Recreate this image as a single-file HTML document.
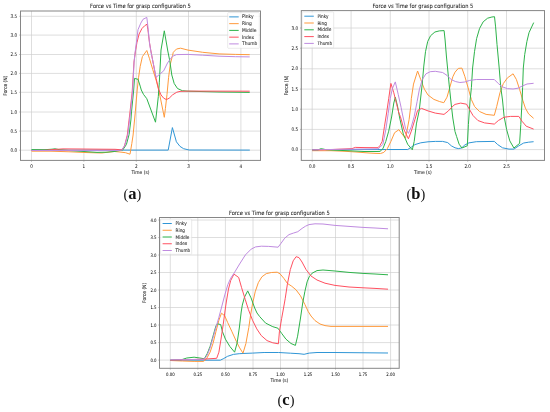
<!DOCTYPE html>
<html lang="en"><head><meta charset="utf-8"><title>Force vs Time for grasp configuration 5</title>
<style>
html,body{margin:0;padding:0;background:#fff;}
body{width:550px;height:412px;overflow:hidden;}
svg{display:block;}
text{font-family:"DejaVu Sans","Liberation Sans",sans-serif;fill:#222;stroke:#222;stroke-width:0.5px;}
.grid{stroke:#cfcfcf;stroke-width:0.68;fill:none;}
.tick{stroke:#868686;stroke-width:0.6;fill:none;}
.box{stroke:#868686;stroke-width:1.0;fill:none;}
.ln{fill:none;stroke-width:1.0;stroke-linejoin:round;stroke-linecap:butt;}
.lg{fill:#fff;fill-opacity:0.8;stroke:#d6d6d6;stroke-width:0.5;}
.cap{stroke:none;font-family:"Liberation Serif","DejaVu Serif",serif;font-size:16.5px;fill:#111;}
.cap .b{font-weight:bold;}
.cap .p{font-size:14.4px;}
</style></head><body>
<svg width="550" height="412" viewBox="0 0 550 412">
<rect width="550" height="412" fill="#fff"/>
<g class="chart" id="chart-a">
<rect x="20.5" y="11.0" width="240.0" height="149.4" fill="#fff"/>
<path class="grid" d="M31.5 11.0V160.4M83.9 11.0V160.4M136.3 11.0V160.4M188.5 11.0V160.4M240.9 11.0V160.4M20.5 150.2H260.5M20.5 131.1H260.5M20.5 112.0H260.5M20.5 92.3H260.5M20.5 73.4H260.5M20.5 54.5H260.5M20.5 35.1H260.5M20.5 16.3H260.5"/>
<polyline class="ln" stroke="#3096d6" points="31.5,150.1 168.2,150.1 172.4,127.6 176.4,141.8 180.0,146.4 183.6,148.7 189.1,150.0 249.8,150.1"/>
<polyline class="ln" stroke="#ff9a3c" points="31.5,151.2 51.0,151.2 70.0,151.8 85.0,152.5 101.8,153.0 108.0,152.2 114.5,151.5 120.0,152.0 125.5,152.7 130.0,154.2 131.8,143.6 133.1,135.0 135.3,111.9 137.2,90.0 138.6,77.3 140.2,66.4 142.4,56.6 146.8,50.5 149.5,58.7 152.8,69.7 156.1,80.0 158.5,89.0 161.0,101.0 164.3,117.3 165.4,108.6 167.0,94.4 168.6,77.3 170.3,64.2 172.5,55.5 173.3,52.3 176.5,49.0 180.6,48.2 188.0,50.1 202.7,52.3 219.1,53.9 235.5,54.4 249.7,54.7"/>
<polyline class="ln" stroke="#2db34a" points="31.5,149.6 45.0,149.7 52.0,149.2 55.0,148.8 60.0,149.8 70.0,150.6 84.0,151.5 97.0,152.4 107.0,152.2 115.0,151.4 122.7,150.0 126.4,144.5 129.1,134.5 130.9,120.0 131.5,111.9 133.7,90.0 134.5,78.4 138.0,79.3 140.2,86.1 141.3,90.0 143.5,94.4 146.8,98.7 155.5,122.2 158.3,96.6 159.3,82.8 161.0,50.0 164.3,30.8 167.8,51.0 169.8,61.0 171.8,75.0 174.2,83.5 177.5,88.5 182.3,90.7 188.0,91.2 219.0,92.0 249.7,92.4"/>
<polyline class="ln" stroke="#ff5060" points="31.5,150.5 45.0,150.3 55.0,149.4 63.0,148.9 80.0,149.0 100.0,149.2 115.0,149.3 121.8,149.8 124.5,146.0 127.3,135.0 130.0,112.0 132.2,92.0 134.0,62.0 135.5,51.0 136.9,42.8 139.1,34.0 141.9,28.6 144.6,25.8 147.0,24.2 147.9,29.7 149.5,42.8 151.1,52.0 156.1,78.4 158.5,89.0 161.0,94.9 163.7,98.2 166.4,99.6 169.2,98.2 172.5,94.9 176.8,92.2 180.0,91.4 188.0,91.1 249.7,91.2"/>
<polyline class="ln" stroke="#bf8be0" points="31.5,150.5 100.0,150.6 118.0,150.5 121.8,150.1 124.6,145.8 127.8,135.0 130.5,112.0 132.6,92.0 134.1,62.0 135.0,53.0 136.4,42.8 138.0,29.7 140.8,23.1 143.0,19.3 146.8,17.4 147.9,26.4 149.5,42.8 150.6,50.0 152.8,60.9 156.1,77.3 163.7,70.8 167.5,63.0 170.0,59.5 172.5,56.3 176.5,54.6 188.0,54.4 202.7,55.2 219.0,56.2 235.5,56.7 249.7,56.9"/>
<path class="tick" d="M31.5 160.4v1.2M83.9 160.4v1.2M136.3 160.4v1.2M188.5 160.4v1.2M240.9 160.4v1.2M20.5 150.2h-1.2M20.5 131.1h-1.2M20.5 112.0h-1.2M20.5 92.3h-1.2M20.5 73.4h-1.2M20.5 54.5h-1.2M20.5 35.1h-1.2M20.5 16.3h-1.2"/>
<rect class="box" x="20.5" y="11.0" width="240.0" height="149.4"/>
<text class="tl" transform="translate(31.50 168.10) scale(0.100 0.120)" font-size="41.0" text-anchor="middle">0</text>
<text class="tl" transform="translate(83.90 168.10) scale(0.100 0.120)" font-size="41.0" text-anchor="middle">1</text>
<text class="tl" transform="translate(136.30 168.10) scale(0.100 0.120)" font-size="41.0" text-anchor="middle">2</text>
<text class="tl" transform="translate(188.50 168.10) scale(0.100 0.120)" font-size="41.0" text-anchor="middle">3</text>
<text class="tl" transform="translate(240.90 168.10) scale(0.100 0.120)" font-size="41.0" text-anchor="middle">4</text>
<text class="tl" transform="translate(17.10 151.80) scale(0.100 0.120)" font-size="41.0" text-anchor="end">0.0</text>
<text class="tl" transform="translate(17.10 132.70) scale(0.100 0.120)" font-size="41.0" text-anchor="end">0.5</text>
<text class="tl" transform="translate(17.10 113.60) scale(0.100 0.120)" font-size="41.0" text-anchor="end">1.0</text>
<text class="tl" transform="translate(17.10 93.90) scale(0.100 0.120)" font-size="41.0" text-anchor="end">1.5</text>
<text class="tl" transform="translate(17.10 75.00) scale(0.100 0.120)" font-size="41.0" text-anchor="end">2.0</text>
<text class="tl" transform="translate(17.10 56.10) scale(0.100 0.120)" font-size="41.0" text-anchor="end">2.5</text>
<text class="tl" transform="translate(17.10 36.70) scale(0.100 0.120)" font-size="41.0" text-anchor="end">3.0</text>
<text class="tl" transform="translate(17.10 17.90) scale(0.100 0.120)" font-size="41.0" text-anchor="end">3.5</text>
<text class="al" transform="translate(140.50 173.80) scale(0.100 0.115)" font-size="44.0" text-anchor="middle">Time (s)</text>
<text class="al" transform="translate(7.40 85.70) rotate(-90) scale(0.100 0.115)" font-size="44.0" text-anchor="middle">Force (N)</text>
<text class="ti" transform="translate(140.50 8.00) scale(0.100 0.115)" font-size="51.5" text-anchor="middle">Force vs Time for grasp configuration 5</text>
<rect class="lg" x="227.7" y="12.6" width="31.6" height="35.7" rx="0.8"/>
<path class="ln" stroke="#3096d6" d="M229.2 16.90h9.5"/>
<text class="lt" transform="translate(242.00 18.45) scale(0.100 0.115)" font-size="44.0">Pinky</text>
<path class="ln" stroke="#ff9a3c" d="M229.2 23.65h9.5"/>
<text class="lt" transform="translate(242.00 25.20) scale(0.100 0.115)" font-size="44.0">Ring</text>
<path class="ln" stroke="#2db34a" d="M229.2 30.40h9.5"/>
<text class="lt" transform="translate(242.00 31.95) scale(0.100 0.115)" font-size="44.0">Middle</text>
<path class="ln" stroke="#ff5060" d="M229.2 37.15h9.5"/>
<text class="lt" transform="translate(242.00 38.70) scale(0.100 0.115)" font-size="44.0">Index</text>
<path class="ln" stroke="#bf8be0" d="M229.2 43.90h9.5"/>
<text class="lt" transform="translate(242.00 45.45) scale(0.100 0.115)" font-size="44.0">Thumb</text>
<text class="cap" x="132.4" y="199.3" text-anchor="middle"><tspan class="p">(</tspan><tspan class="b">a</tspan><tspan class="p">)</tspan></text>
</g>
<g class="chart" id="chart-b">
<rect x="301.3" y="10.6" width="243.2" height="149.8" fill="#fff"/>
<path class="grid" d="M312.2 10.6V160.4M351.1 10.6V160.4M390.3 10.6V160.4M429.0 10.6V160.4M467.7 10.6V160.4M506.5 10.6V160.4M301.3 149.6H544.5M301.3 129.4H544.5M301.3 109.2H544.5M301.3 89.1H544.5M301.3 68.8H544.5M301.3 48.2H544.5M301.3 28.0H544.5"/>
<polyline class="ln" stroke="#3096d6" points="312.2,149.6 407.7,149.5 411.3,147.2 414.9,144.6 420.8,142.8 428.0,141.8 435.3,141.4 442.6,141.4 447.7,142.6 451.3,145.8 455.0,147.8 458.3,148.6 461.5,148.0 464.8,145.0 468.9,142.9 476.3,141.7 494.3,141.4 497.6,144.5 502.5,147.8 509.0,149.1 513.9,149.1 518.8,145.8 523.7,143.0 528.6,142.2 533.6,141.7"/>
<polyline class="ln" stroke="#ff9a3c" points="312.2,150.7 331.0,150.7 345.0,151.3 356.0,152.0 369.0,153.0 376.0,153.4 380.5,153.5 383.8,152.4 387.3,148.7 390.9,141.4 394.6,132.7 398.9,129.7 402.0,134.0 405.5,138.2 409.1,119.6 410.9,105.0 411.3,98.7 413.5,84.1 417.6,71.0 420.8,79.7 424.4,89.2 428.0,95.0 433.9,99.4 439.7,101.6 443.8,102.7 447.0,97.2 449.9,87.0 452.8,76.8 455.0,72.2 458.3,68.4 461.9,68.1 464.8,76.3 468.1,87.7 471.4,99.6 474.6,106.5 479.5,111.5 486.1,114.4 494.3,115.3 496.7,106.5 500.0,92.6 503.3,83.6 507.4,77.9 513.1,73.8 516.4,79.5 519.6,89.4 522.9,100.6 525.4,108.2 528.6,113.9 533.6,118.3"/>
<polyline class="ln" stroke="#2db34a" points="312.2,150.2 318.0,150.0 320.7,148.7 323.0,149.0 326.0,149.7 335.0,150.2 350.0,150.8 364.0,151.5 377.0,151.5 380.0,151.4 382.9,148.7 385.8,141.4 388.7,131.2 391.6,117.0 393.8,103.0 395.3,97.2 397.5,106.0 399.7,118.0 403.3,134.1 407.7,144.3 412.3,149.8 414.2,141.4 416.4,123.9 419.3,110.0 422.2,84.1 423.8,66.0 425.5,51.7 427.7,41.5 430.6,35.7 434.9,32.0 439.3,30.9 444.1,30.6 445.1,40.0 446.4,56.0 449.1,84.1 451.3,105.0 452.8,118.0 455.0,131.5 456.6,136.5 459.1,144.2 461.9,148.0 467.3,145.8 468.4,124.5 470.1,100.0 471.4,87.7 472.6,68.0 474.5,51.7 476.6,38.6 479.6,28.4 483.2,21.8 487.6,18.2 491.9,17.0 494.5,16.7 495.6,26.9 497.0,44.4 499.2,68.0 500.8,87.7 502.5,100.0 504.1,116.4 506.6,129.5 509.8,140.9 513.9,148.0 519.6,143.4 520.8,124.5 522.1,100.0 522.6,87.7 523.3,68.0 524.7,54.6 526.9,41.5 529.0,32.7 533.7,22.6"/>
<polyline class="ln" stroke="#ff5060" points="312.2,150.0 330.0,149.6 344.0,149.0 352.0,148.6 355.3,147.4 365.0,147.6 378.0,147.7 380.0,145.5 382.2,141.4 384.4,126.8 386.6,113.0 388.7,98.7 390.9,83.4 393.8,92.8 396.7,104.5 398.9,113.0 400.4,116.6 404.0,129.7 408.4,138.8 411.3,131.2 414.9,119.6 417.5,110.6 421.5,108.4 428.0,110.9 435.3,113.1 444.0,114.4 448.4,110.9 452.8,106.2 455.0,104.4 460.7,103.1 466.5,104.2 469.7,109.8 473.0,115.5 477.9,120.5 484.5,122.9 494.3,124.1 498.4,120.5 504.1,117.2 510.6,116.4 518.8,116.4 522.1,121.3 526.2,126.2 533.6,129.1"/>
<polyline class="ln" stroke="#bf8be0" points="312.2,149.9 340.0,149.3 365.0,149.0 378.0,148.8 380.0,147.2 382.9,144.3 385.8,129.7 388.2,113.5 390.2,98.7 392.4,88.5 395.3,81.9 398.2,94.3 401.1,107.4 402.6,115.0 405.5,128.3 408.4,133.4 411.3,126.8 414.2,116.6 417.1,101.6 419.3,89.9 422.2,79.7 425.9,73.9 430.2,71.7 435.3,71.3 442.6,72.5 447.0,75.4 451.3,79.7 455.7,81.6 459.9,82.5 464.8,82.0 469.7,80.4 476.3,79.5 494.3,79.5 498.4,83.6 502.5,86.9 507.4,88.6 513.1,89.0 518.0,88.2 522.1,86.1 527.0,84.0 533.6,83.3"/>
<path class="tick" d="M312.2 160.4v1.2M351.1 160.4v1.2M390.3 160.4v1.2M429.0 160.4v1.2M467.7 160.4v1.2M506.5 160.4v1.2M301.3 149.6h-1.2M301.3 129.4h-1.2M301.3 109.2h-1.2M301.3 89.1h-1.2M301.3 68.8h-1.2M301.3 48.2h-1.2M301.3 28.0h-1.2"/>
<rect class="box" x="301.3" y="10.6" width="243.2" height="149.8"/>
<text class="tl" transform="translate(312.20 168.10) scale(0.100 0.120)" font-size="41.5" text-anchor="middle">0.0</text>
<text class="tl" transform="translate(351.10 168.10) scale(0.100 0.120)" font-size="41.5" text-anchor="middle">0.5</text>
<text class="tl" transform="translate(390.30 168.10) scale(0.100 0.120)" font-size="41.5" text-anchor="middle">1.0</text>
<text class="tl" transform="translate(429.00 168.10) scale(0.100 0.120)" font-size="41.5" text-anchor="middle">1.5</text>
<text class="tl" transform="translate(467.70 168.10) scale(0.100 0.120)" font-size="41.5" text-anchor="middle">2.0</text>
<text class="tl" transform="translate(506.50 168.10) scale(0.100 0.120)" font-size="41.5" text-anchor="middle">2.5</text>
<text class="tl" transform="translate(298.20 151.20) scale(0.100 0.120)" font-size="41.5" text-anchor="end">0.0</text>
<text class="tl" transform="translate(298.20 131.00) scale(0.100 0.120)" font-size="41.5" text-anchor="end">0.5</text>
<text class="tl" transform="translate(298.20 110.80) scale(0.100 0.120)" font-size="41.5" text-anchor="end">1.0</text>
<text class="tl" transform="translate(298.20 90.70) scale(0.100 0.120)" font-size="41.5" text-anchor="end">1.5</text>
<text class="tl" transform="translate(298.20 70.40) scale(0.100 0.120)" font-size="41.5" text-anchor="end">2.0</text>
<text class="tl" transform="translate(298.20 49.80) scale(0.100 0.120)" font-size="41.5" text-anchor="end">2.5</text>
<text class="tl" transform="translate(298.20 29.60) scale(0.100 0.120)" font-size="41.5" text-anchor="end">3.0</text>
<text class="al" transform="translate(422.90 173.80) scale(0.100 0.115)" font-size="44.0" text-anchor="middle">Time (s)</text>
<text class="al" transform="translate(288.20 85.50) rotate(-90) scale(0.100 0.115)" font-size="44.0" text-anchor="middle">Force (N)</text>
<text class="ti" transform="translate(422.90 7.60) scale(0.100 0.115)" font-size="51.5" text-anchor="middle">Force vs Time for grasp configuration 5</text>
<rect class="lg" x="302.1" y="11.9" width="31.6" height="35.9" rx="0.8"/>
<path class="ln" stroke="#3096d6" d="M304.3 16.20h9.5"/>
<text class="lt" transform="translate(317.40 17.75) scale(0.100 0.115)" font-size="42.5">Pinky</text>
<path class="ln" stroke="#ff9a3c" d="M304.3 23.00h9.5"/>
<text class="lt" transform="translate(317.40 24.55) scale(0.100 0.115)" font-size="42.5">Ring</text>
<path class="ln" stroke="#2db34a" d="M304.3 29.80h9.5"/>
<text class="lt" transform="translate(317.40 31.35) scale(0.100 0.115)" font-size="42.5">Middle</text>
<path class="ln" stroke="#ff5060" d="M304.3 36.60h9.5"/>
<text class="lt" transform="translate(317.40 38.15) scale(0.100 0.115)" font-size="42.5">Index</text>
<path class="ln" stroke="#bf8be0" d="M304.3 43.40h9.5"/>
<text class="lt" transform="translate(317.40 44.95) scale(0.100 0.115)" font-size="42.5">Thumb</text>
<text class="cap" x="415.8" y="199.3" text-anchor="middle"><tspan class="p">(</tspan><tspan class="b">b</tspan><tspan class="p">)</tspan></text>
</g>
<g class="chart" id="chart-c">
<rect x="159.5" y="217.5" width="239.7" height="150.8" fill="#fff"/>
<path class="grid" d="M170.3 217.5V368.3M197.8 217.5V368.3M225.4 217.5V368.3M253.0 217.5V368.3M280.5 217.5V368.3M308.0 217.5V368.3M335.5 217.5V368.3M363.0 217.5V368.3M390.6 217.5V368.3M159.5 360.1H399.2M159.5 342.6H399.2M159.5 325.0H399.2M159.5 307.5H399.2M159.5 290.0H399.2M159.5 272.5H399.2M159.5 255.0H399.2M159.5 237.5H399.2M159.5 220.0H399.2"/>
<polyline class="ln" stroke="#3096d6" points="170.3,360.2 220.3,360.2 223.2,358.8 227.6,356.3 233.4,354.4 239.2,353.7 245.0,353.4 252.5,353.1 264.1,352.5 278.7,352.5 290.3,353.2 299.0,353.7 304.1,354.3 309.2,353.1 317.0,352.5 335.0,352.5 388.0,353.0"/>
<polyline class="ln" stroke="#ff9a3c" points="170.3,360.5 182.5,361.0 194.1,361.4 203.6,361.4 206.5,358.8 210.1,352.2 213.0,343.5 215.9,331.8 218.9,320.2 221.5,313.2 224.7,315.8 227.6,322.4 232.0,331.8 236.3,341.3 239.2,347.1 243.0,353.2 245.9,343.5 248.8,327.5 250.6,315.0 252.5,304.0 255.2,291.8 258.3,282.7 261.9,276.8 266.3,273.6 271.4,272.5 277.2,272.2 280.1,273.9 283.8,278.3 287.4,283.4 291.8,286.3 296.1,289.9 300.5,295.8 304.9,304.5 308.2,311.5 311.0,316.0 315.0,320.6 320.0,324.0 325.0,325.6 331.0,326.4 388.0,326.4"/>
<polyline class="ln" stroke="#2db34a" points="170.3,360.2 181.0,359.9 186.8,358.0 194.1,357.2 199.9,358.0 204.3,358.8 207.2,353.7 210.1,346.4 213.0,336.2 215.9,326.0 217.4,323.8 220.7,324.6 222.5,331.8 225.4,339.1 229.8,346.4 234.6,352.2 237.1,343.0 239.3,328.0 241.2,312.0 242.3,305.1 244.5,297.1 247.7,290.9 251.0,297.8 254.7,308.0 257.0,313.0 259.7,316.6 265.6,323.1 272.8,326.7 277.9,328.2 281.6,333.3 285.9,339.1 291.0,343.5 295.4,345.4 297.6,336.2 300.5,318.0 302.7,303.0 304.9,291.4 307.1,281.9 309.2,276.8 312.1,273.2 317.0,270.6 323.0,270.0 335.0,271.0 349.0,272.4 363.0,273.4 375.0,274.0 388.0,274.8"/>
<polyline class="ln" stroke="#ff5060" points="170.3,360.2 202.8,359.2 216.7,358.3 218.9,352.2 221.0,339.1 223.2,324.6 225.0,311.0 226.3,302.0 228.5,289.0 230.7,280.5 234.0,274.1 238.7,277.5 241.6,287.7 245.2,299.3 248.4,309.5 252.5,320.2 256.8,328.9 261.2,335.5 267.0,340.6 272.8,342.8 278.4,343.8 279.4,331.8 281.6,318.7 283.2,310.0 285.2,298.7 287.4,284.1 290.3,269.6 293.2,260.8 296.1,256.7 299.0,257.6 302.0,262.0 306.0,269.5 311.0,276.0 317.0,280.0 325.0,283.2 335.0,285.4 349.0,287.0 363.0,287.8 375.0,288.4 388.0,289.2"/>
<polyline class="ln" stroke="#bf8be0" points="170.3,359.9 190.0,359.6 204.3,359.2 207.2,355.1 210.1,347.8 213.0,337.7 215.9,327.5 218.9,317.3 221.9,306.0 224.8,294.9 227.8,284.7 230.7,278.2 234.3,272.8 239.6,264.0 245.4,254.9 251.2,249.1 255.6,246.9 261.4,246.2 268.7,246.4 278.1,247.2 281.0,243.3 284.7,238.2 289.0,234.6 293.4,233.1 297.8,231.7 302.1,228.4 305.5,226.2 309.0,224.6 315.0,223.8 323.0,224.0 335.0,225.4 349.0,226.4 363.0,227.4 375.0,228.0 388.0,228.8"/>
<path class="tick" d="M170.3 368.3v1.2M197.8 368.3v1.2M225.4 368.3v1.2M253.0 368.3v1.2M280.5 368.3v1.2M308.0 368.3v1.2M335.5 368.3v1.2M363.0 368.3v1.2M390.6 368.3v1.2M159.5 360.1h-1.2M159.5 342.6h-1.2M159.5 325.0h-1.2M159.5 307.5h-1.2M159.5 290.0h-1.2M159.5 272.5h-1.2M159.5 255.0h-1.2M159.5 237.5h-1.2M159.5 220.0h-1.2"/>
<rect class="box" x="159.5" y="217.5" width="239.7" height="150.8"/>
<text class="tl" transform="translate(170.30 376.00) scale(0.100 0.120)" font-size="39.0" text-anchor="middle">0.00</text>
<text class="tl" transform="translate(197.80 376.00) scale(0.100 0.120)" font-size="39.0" text-anchor="middle">0.25</text>
<text class="tl" transform="translate(225.40 376.00) scale(0.100 0.120)" font-size="39.0" text-anchor="middle">0.50</text>
<text class="tl" transform="translate(253.00 376.00) scale(0.100 0.120)" font-size="39.0" text-anchor="middle">0.75</text>
<text class="tl" transform="translate(280.50 376.00) scale(0.100 0.120)" font-size="39.0" text-anchor="middle">1.00</text>
<text class="tl" transform="translate(308.00 376.00) scale(0.100 0.120)" font-size="39.0" text-anchor="middle">1.25</text>
<text class="tl" transform="translate(335.50 376.00) scale(0.100 0.120)" font-size="39.0" text-anchor="middle">1.50</text>
<text class="tl" transform="translate(363.00 376.00) scale(0.100 0.120)" font-size="39.0" text-anchor="middle">1.75</text>
<text class="tl" transform="translate(390.60 376.00) scale(0.100 0.120)" font-size="39.0" text-anchor="middle">2.00</text>
<text class="tl" transform="translate(156.60 361.70) scale(0.100 0.120)" font-size="39.0" text-anchor="end">0.0</text>
<text class="tl" transform="translate(156.60 344.20) scale(0.100 0.120)" font-size="39.0" text-anchor="end">0.5</text>
<text class="tl" transform="translate(156.60 326.60) scale(0.100 0.120)" font-size="39.0" text-anchor="end">1.0</text>
<text class="tl" transform="translate(156.60 309.10) scale(0.100 0.120)" font-size="39.0" text-anchor="end">1.5</text>
<text class="tl" transform="translate(156.60 291.60) scale(0.100 0.120)" font-size="39.0" text-anchor="end">2.0</text>
<text class="tl" transform="translate(156.60 274.10) scale(0.100 0.120)" font-size="39.0" text-anchor="end">2.5</text>
<text class="tl" transform="translate(156.60 256.60) scale(0.100 0.120)" font-size="39.0" text-anchor="end">3.0</text>
<text class="tl" transform="translate(156.60 239.10) scale(0.100 0.120)" font-size="39.0" text-anchor="end">3.5</text>
<text class="tl" transform="translate(156.60 221.60) scale(0.100 0.120)" font-size="39.0" text-anchor="end">4.0</text>
<text class="al" transform="translate(279.35 381.70) scale(0.100 0.115)" font-size="44.0" text-anchor="middle">Time (s)</text>
<text class="al" transform="translate(146.40 292.90) rotate(-90) scale(0.100 0.115)" font-size="44.0" text-anchor="middle">Force (N)</text>
<text class="ti" transform="translate(279.35 214.50) scale(0.100 0.115)" font-size="51.5" text-anchor="middle">Force vs Time for grasp configuration 5</text>
<rect class="lg" x="160.6" y="219.1" width="31.1" height="35.2" rx="0.8"/>
<path class="ln" stroke="#3096d6" d="M162.6 223.50h9.2"/>
<text class="lt" transform="translate(175.60 225.05) scale(0.100 0.115)" font-size="42.0">Pinky</text>
<path class="ln" stroke="#ff9a3c" d="M162.6 230.25h9.2"/>
<text class="lt" transform="translate(175.60 231.80) scale(0.100 0.115)" font-size="42.0">Ring</text>
<path class="ln" stroke="#2db34a" d="M162.6 237.00h9.2"/>
<text class="lt" transform="translate(175.60 238.55) scale(0.100 0.115)" font-size="42.0">Middle</text>
<path class="ln" stroke="#ff5060" d="M162.6 243.75h9.2"/>
<text class="lt" transform="translate(175.60 245.30) scale(0.100 0.115)" font-size="42.0">Index</text>
<path class="ln" stroke="#bf8be0" d="M162.6 250.50h9.2"/>
<text class="lt" transform="translate(175.60 252.05) scale(0.100 0.115)" font-size="42.0">Thumb</text>
<text class="cap" x="286.0" y="405.3" text-anchor="middle"><tspan class="p">(</tspan><tspan class="b">c</tspan><tspan class="p">)</tspan></text>
</g>
</svg></body></html>
